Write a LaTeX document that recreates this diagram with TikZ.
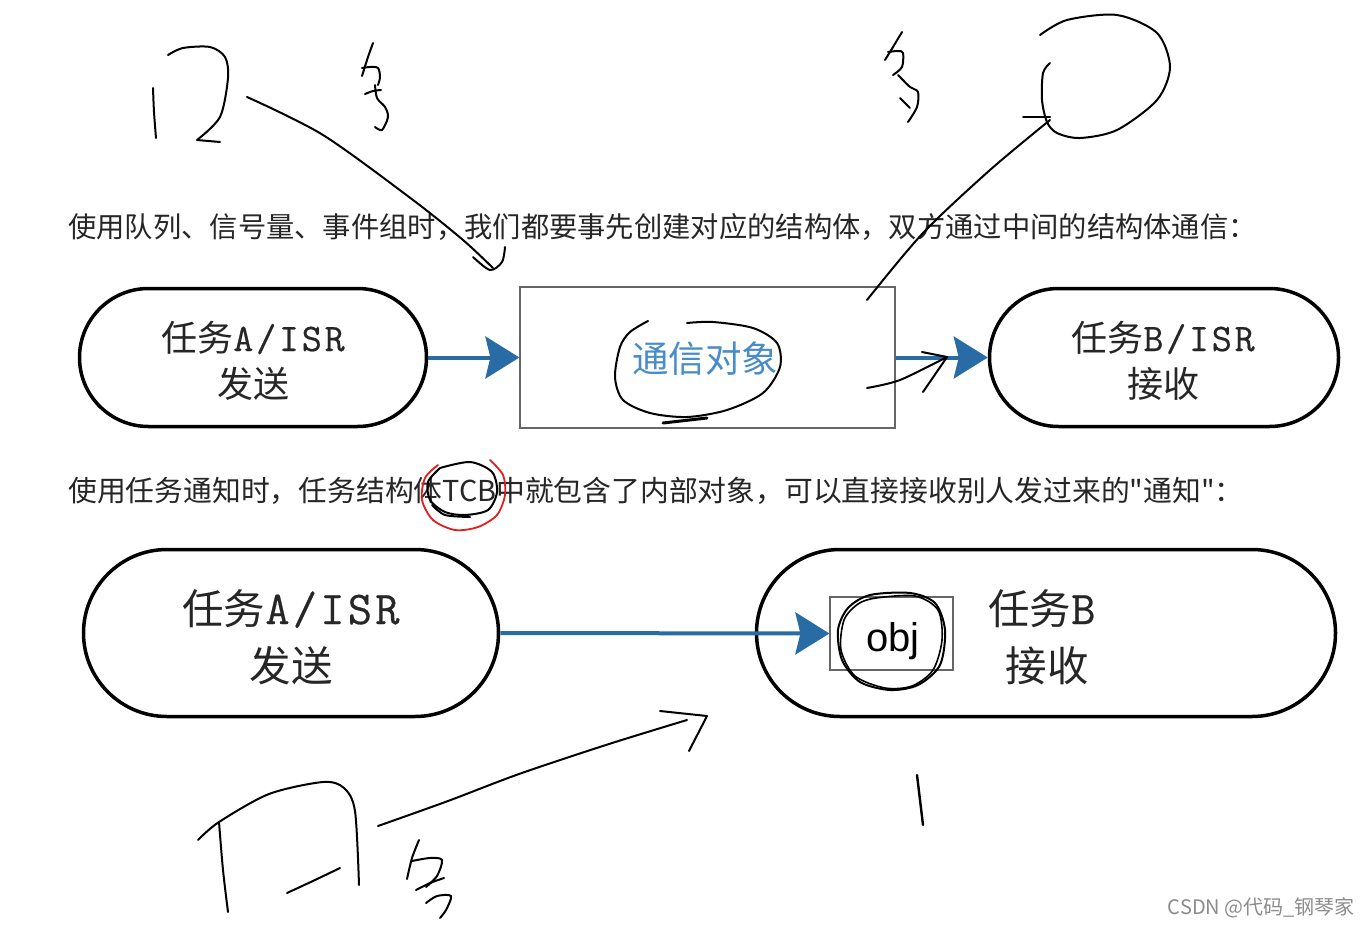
\documentclass[tikz,border=0pt]{standalone}
\usepackage{fontspec}
\setmainfont{Noto Sans CJK SC}[Ligatures=TeXOff]
\newfontfamily\monofnt{Latin Modern Mono}[LetterSpace=7,FakeBold=0.5]
\newfontfamily\latinsans{Liberation Sans}
\usetikzlibrary{shapes.misc,arrows.meta}
\definecolor{arrowblue}{RGB}{41,108,165}
\definecolor{objblue}{RGB}{72,140,200}
\definecolor{txtgray}{RGB}{38,38,38}
\definecolor{inkred}{RGB}{225,30,30}
\begin{document}
\begin{tikzpicture}[x=1pt,y=-1pt,
  stadium/.style={draw=black, line width=3.5pt, rounded rectangle, inner sep=0pt},
  boxstyle/.style={draw=black!60, line width=1.2pt, rectangle, inner sep=0pt},
  flow/.style={draw=arrowblue, line width=4pt, -{Stealth[length=34pt,width=42pt,inset=5pt]}},
  ink/.style={draw=black, line width=2pt, line cap=round, line join=round},
  redink/.style={draw=inkred, line width=1.8pt, line cap=round, line join=round},
  sentence/.style={anchor=base west, inner sep=0pt, text=txtgray, font=\fontsize{28.3}{34}\selectfont},
  lblsmall/.style={anchor=base, inner sep=0pt, text=txtgray, font=\fontsize{36}{44}\selectfont},
  lblbig/.style={anchor=base, inner sep=0pt, text=txtgray, font=\fontsize{41.5}{50}\selectfont},
]
\useasboundingbox (0,0) rectangle (1370,926);
\fill[white] (0,0) rectangle (1370,926);

% sentences
\node[sentence] (sent1) at (68,237) {使用队列、信号量、事件组时，我们都要事先创建对应的结构体，双方通过中间的结构体通信：};
\node[sentence, font=\fontsize{28.8}{34}\selectfont] (sent2) at (68,501) {使用任务通知时，任务结构体TCB中就包含了内部对象，可以直接接收别人发过来的"通知"：};

% upper row
\node[stadium, minimum width=347pt, minimum height=138pt] (s1) at (253,357.5) {};
\node[boxstyle, minimum width=375pt, minimum height=141pt] (obj1) at (707.5,357.5) {};
\node[stadium, minimum width=349pt, minimum height=138pt] (s2) at (1164,357.5) {};
\node[lblsmall] (s1a) at (253,351) {任务{\monofnt\fontsize{39}{44}\selectfont A/ISR}};
\node[lblsmall] (s1b) at (253,397) {发送};
\node[lblsmall] (s2a) at (1163,351) {任务{\monofnt\fontsize{39}{44}\selectfont B/ISR}};
\node[lblsmall] (s2b) at (1163,397) {接收};
\node[anchor=base, inner sep=0pt, text=objblue, font=\fontsize{36.5}{44}\selectfont] (obj1t) at (705,372) {通信对象};
\draw[flow] (s1.east) -- (obj1.west);
\draw[flow] (obj1.east) -- (s2.west);

% lower row
\node[stadium, minimum width=415pt, minimum height=167pt] (s3) at (291,633) {};
\node[stadium, minimum width=579pt, minimum height=167pt] (s4) at (1046,633) {};
\node[boxstyle, minimum width=123pt, minimum height=73pt] (obj2) at (891.5,633.5) {};
\node[anchor=base, inner sep=0pt, text=black, font=\latinsans\fontsize{40}{48}\selectfont] (obj2t) at (893,651) {obj};
\node[lblbig] (s3a) at (291,624) {任务{\monofnt\fontsize{47}{50}\selectfont A/ISR}};
\node[lblbig] (s3b) at (291,681) {发送};
\node[lblbig, anchor=base west] (s4a) at (988,624) {任务{\monofnt\fontsize{47}{50}\selectfont B}};
\node[lblbig] (s4b) at (1047,681) {接收};
\draw[flow] (s3.east) -- (obj2.west);

% watermark
\node[anchor=base east, inner sep=0pt, text=black!45, font=\fontsize{20}{24}\selectfont] (wm) at (1355,914) {CSDN @代码\_钢琴家};

% ---- handwritten marks ----
% top-left
\draw[ink] plot[smooth] coordinates {(153,88)(154,112)(156,138)};
\draw[ink] plot[smooth] coordinates {(168,55)(183,48)(210,47)(225,57)(228,78)(220,117)(197,140)} -- (220,142);
% top-left character
\draw[ink] plot[smooth] coordinates {(373,43)(368,57)(362,76)};
\draw[ink] plot[smooth] coordinates {(362,68)(370,67)(378,68)(380,77)(378,85)};
\draw[ink] plot[smooth] coordinates {(365,94)(373,91)(381,90)};
\draw[ink] plot[smooth] coordinates {(375,85)(377,98)(385,107)(388,117)(382,130)(375,127)};
% long stroke
\draw[ink] plot[smooth] coordinates {(247,97)(323,135)(413,200)(463,240)(493,268)};
\draw[ink] plot[smooth] coordinates {(473,257)(490,270)(502,262)(505,247)};
% top-right character
\draw[ink] plot[smooth] coordinates {(902,32)(893,47)(885,60)};
\draw[ink] plot[smooth] coordinates {(888,52)(898,51)(903,53)(902,67)(893,75)};
\draw[ink] plot[smooth] coordinates {(898,75)(910,87)(918,92)(917,107)(908,122)};
\draw[ink] plot[smooth] coordinates {(900,98)(910,108)};
% top-right loop and line
\draw[ink] plot[smooth] coordinates {(1040,35)(1067,20)(1117,15)(1157,33)(1170,67)(1157,100)(1117,130)(1080,138)(1057,133)(1047,122)(1042,100)(1043,73)(1050,63)};
\draw[ink] (1023,117) -- (1050,117);
\draw[ink] plot[smooth] coordinates {(1050,120)(990,170)(923,233)(867,300)};
% circle round the communication object
\draw[ink] plot[smooth] coordinates {(648,321)(630,332)(620,347)(615,377)(623,400)(650,413)(687,417)(727,410)(763,393)(780,367)(777,343)(753,328)(713,322)(687,323)};
\draw[ink, line width=3pt] (663,423) -- (707,418);
% small arrow right of box
\draw[ink] plot[smooth] coordinates {(867,388)(900,380)(947,357)};
\draw[ink] (922,352) -- (947,357) -- (923,392);
% TCB circles
\draw[ink] plot[smooth] coordinates {(440,468)(470,462)(492,472)(497,492)(488,510)(465,515)(445,512)(430,500)(428,482)(440,468)};
\draw[ink] plot[smooth] coordinates {(432,505)(445,515)(470,517)};
\draw[redink] plot[smooth] coordinates {(490,460)(503,475)(505,495)(497,515)(478,527)(455,530)(433,520)(422,500)(425,478)(438,465)};
% obj circles
\draw[ink] plot[smooth cycle] coordinates {(870,595)(910,593)(935,603)(945,630)(940,665)(918,685)(890,690)(860,682)(842,660)(838,630)(848,608)};
\draw[ink, line width=1.6pt] plot[smooth cycle] coordinates {(876,598)(915,596)(938,610)(942,640)(933,670)(912,686)(885,688)(855,676)(841,650)(844,620)(858,604)};
% bottom-left marks
\draw[ink] plot[smooth] coordinates {(198,840)(219,822)(269,794)(323,782)(344,788)(355,811)(359,885)};
\draw[ink] plot[smooth] coordinates {(219,822)(223,870)(228,912)};
\draw[ink] plot[smooth] coordinates {(287,893)(315,880)(340,868)};
\draw[ink] plot[smooth] coordinates {(378,826)(448,801)(519,774)(609,744)(687,720)};
\draw[ink] (660,711) -- (707,716) -- (689,751);
% bottom character
\draw[ink] plot[smooth] coordinates {(419,840)(412,858)(407,879)};
\draw[ink] plot[smooth] coordinates {(412,861)(430,858)(442,860)(437,876)(426,887)};
\draw[ink] plot[smooth] coordinates {(416,890)(430,883)(444,878)};
\draw[ink] plot[smooth] coordinates {(426,903)(437,896)(451,896)(446,910)(440,918)};
% bottom-right stroke
\draw[ink, line width=2.4pt] plot[smooth] coordinates {(917,775)(920,800)(923,825)};
\end{tikzpicture}
\end{document}
